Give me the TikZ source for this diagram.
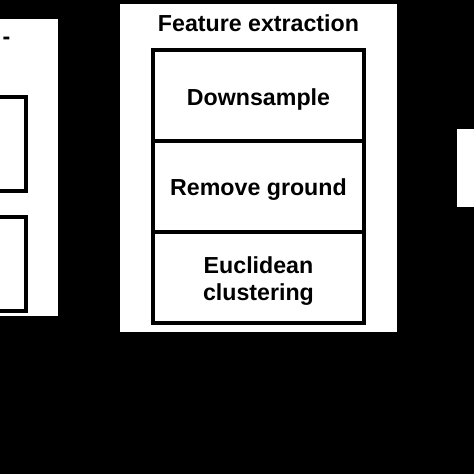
\documentclass[tikz,border=0pt]{standalone}
\usepackage{fontspec}
\setmainfont{Liberation Sans}
\usetikzlibrary{positioning}

\begin{document}
\begin{tikzpicture}[x=0.02cm,y=0.02cm,
	panel/.style={fill=white, draw=none, inner sep=0pt, outer sep=0pt},
	stage/.style={draw=black, line width=1.8pt, fill=white, outer sep=0pt,
		minimum width=211*0.02cm, minimum height=91*0.02cm, align=center,
		execute at begin node={\rule{0pt}{13.6pt}},
		font=\fontsize{13.2pt}{15.8pt}\selectfont\bfseries}]

% Add the background
\useasboundingbox (0,0) rectangle (474,474);
\clip (0,0) rectangle (474,474);
\fill[black] (0,0) rectangle (474,474);

% Add the panels
\node[panel,
		minimum width=68*0.02cm,
		minimum height=297*0.02cm] (left) at (24,306.5) {};

\node[panel,
		minimum width=277*0.02cm,
		minimum height=328*0.02cm] (feat) at (258.5,306) {};

\node[panel,
		minimum width=40*0.02cm,
		minimum height=78.6*0.02cm] (right) at (477,306) {};

% Add the titles
\node[font=\fontsize{13.2pt}{15.8pt}\selectfont\bfseries] (ltitle) at (6.5,433) {-};
\node[font=\fontsize{13.2pt}{15.8pt}\selectfont\bfseries] (ftitle) at (258.5,451) {Feature extraction};

% Add the stages
\node[stage] (down) at (258.5,378.5) {Downsample};
\node[stage, below=0pt of down] (ground) {Remove ground};
\node[stage, below=0pt of ground] (cluster) {\rule{0pt}{13.6pt}Euclidean\\clustering};

% Add the cut boxes on the left
\node[stage, minimum width=66*0.02cm, minimum height=94*0.02cm] (lone) at (-7,330) {};
\node[stage, minimum width=66*0.02cm, minimum height=94*0.02cm] (ltwo) at (-7,210) {};

\end{tikzpicture}
\end{document}
